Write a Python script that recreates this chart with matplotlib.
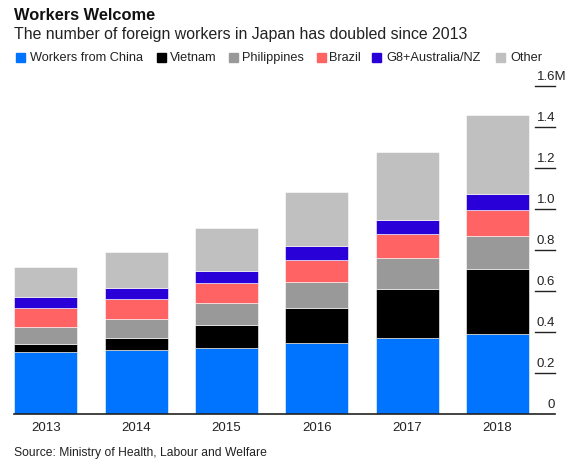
import matplotlib
matplotlib.use("Agg")
import matplotlib.pyplot as plt
from matplotlib.patches import Rectangle

plt.rcParams['font.family'] = ['Liberation Sans', 'DejaVu Sans']

# foreign workers in Japan, millions
years = ['2013', '2014', '2015', '2016', '2017', '2018']
china = [0.304, 0.312, 0.323, 0.345, 0.372, 0.389]
vietnam = [0.038, 0.061, 0.110, 0.172, 0.240, 0.317]
philippines = [0.080, 0.092, 0.107, 0.128, 0.147, 0.164]
brazil = [0.096, 0.094, 0.097, 0.107, 0.117, 0.127]
g8 = [0.052, 0.058, 0.061, 0.066, 0.072, 0.078]
other = [0.148, 0.171, 0.210, 0.266, 0.331, 0.385]

series_names = ['Workers from China', 'Vietnam', 'Philippines', 'Brazil',
                'G8+Australia/NZ', 'Other']
colors = ['#0073ff', '#000000', '#999999', '#ff6363', '#2a00d8', '#c0c0c0']
yticks = [0, 0.2, 0.4, 0.6, 0.8, 1.0, 1.2, 1.4, 1.6]
ytick_labels = ['0', '0.2', '0.4', '0.6', '0.8', '1.0', '1.2', '1.4', '1.6M']

W, H = 573, 465
fig = plt.figure(figsize=(W / 100, H / 100), dpi=100)
ax = fig.add_axes([14 / W, (H - 414) / H, (555 - 14) / W, (414 - 86) / H])

x = list(range(len(years)))
bottom = [0] * len(years)
for vals, c in zip([china, vietnam, philippines, brazil, g8, other], colors):
    ax.bar(x, vals, width=0.697, bottom=bottom, color=c, edgecolor='white',
           linewidth=0.4)
    bottom = [b + v for b, v in zip(bottom, vals)]

ax.set_xlim(-0.35, 5.636)
ax.set_ylim(0, 1.6)
for s in ax.spines.values():
    s.set_visible(False)
ax.axhline(0, color='#222222', lw=1.2, clip_on=False)
ax.set_yticks([])
ax.set_xticks(x)
ax.set_xticklabels(years, fontsize=9.5, color='#222222')
ax.tick_params(axis='x', length=0, pad=6)

# right-side y scale drawn inside the plot
for v, lab in zip(yticks, ytick_labels):
    if v > 0:
        ax.plot([5.42, 5.636], [v, v], color='#222222', lw=1.0, clip_on=False)
    ax.annotate(lab, xy=(5.636, v), xytext=(0 if lab != '1.6M' else 8.5, 2),
                textcoords='offset points', ha='right', va='bottom',
                fontsize=9.5, color='#222222', annotation_clip=False)

fig.text(14 / W, 1 - 16 / H, 'Workers Welcome', fontsize=11.75,
         fontweight='bold', va='center', ha='left', color='#111111')
fig.text(14 / W, 1 - 35 / H,
         'The number of foreign workers in Japan has doubled since 2013',
         fontsize=11.45, va='center', ha='left', color='#222222')

# legend row
sq_x = [16, 156.7, 229.3, 316.7, 372.3, 496]
txt_x = [30, 170, 242, 329.3, 386, 510]
for name, c, sx, tx in zip(series_names, colors, sq_x, txt_x):
    fig.patches.append(Rectangle((sx / W, 1 - 62.5 / H), 9 / W, 9 / H,
                                 transform=fig.transFigure, color=c))
    fig.text(tx / W, 1 - 58 / H, name, fontsize=9.2, va='center', ha='left',
             color='#222222')

fig.text(14 / W, 1 - 453 / H, 'Source: Ministry of Health, Labour and Welfare',
         fontsize=8.7, va='center', ha='left', color='#222222')

fig.savefig('out.png', dpi=100)
